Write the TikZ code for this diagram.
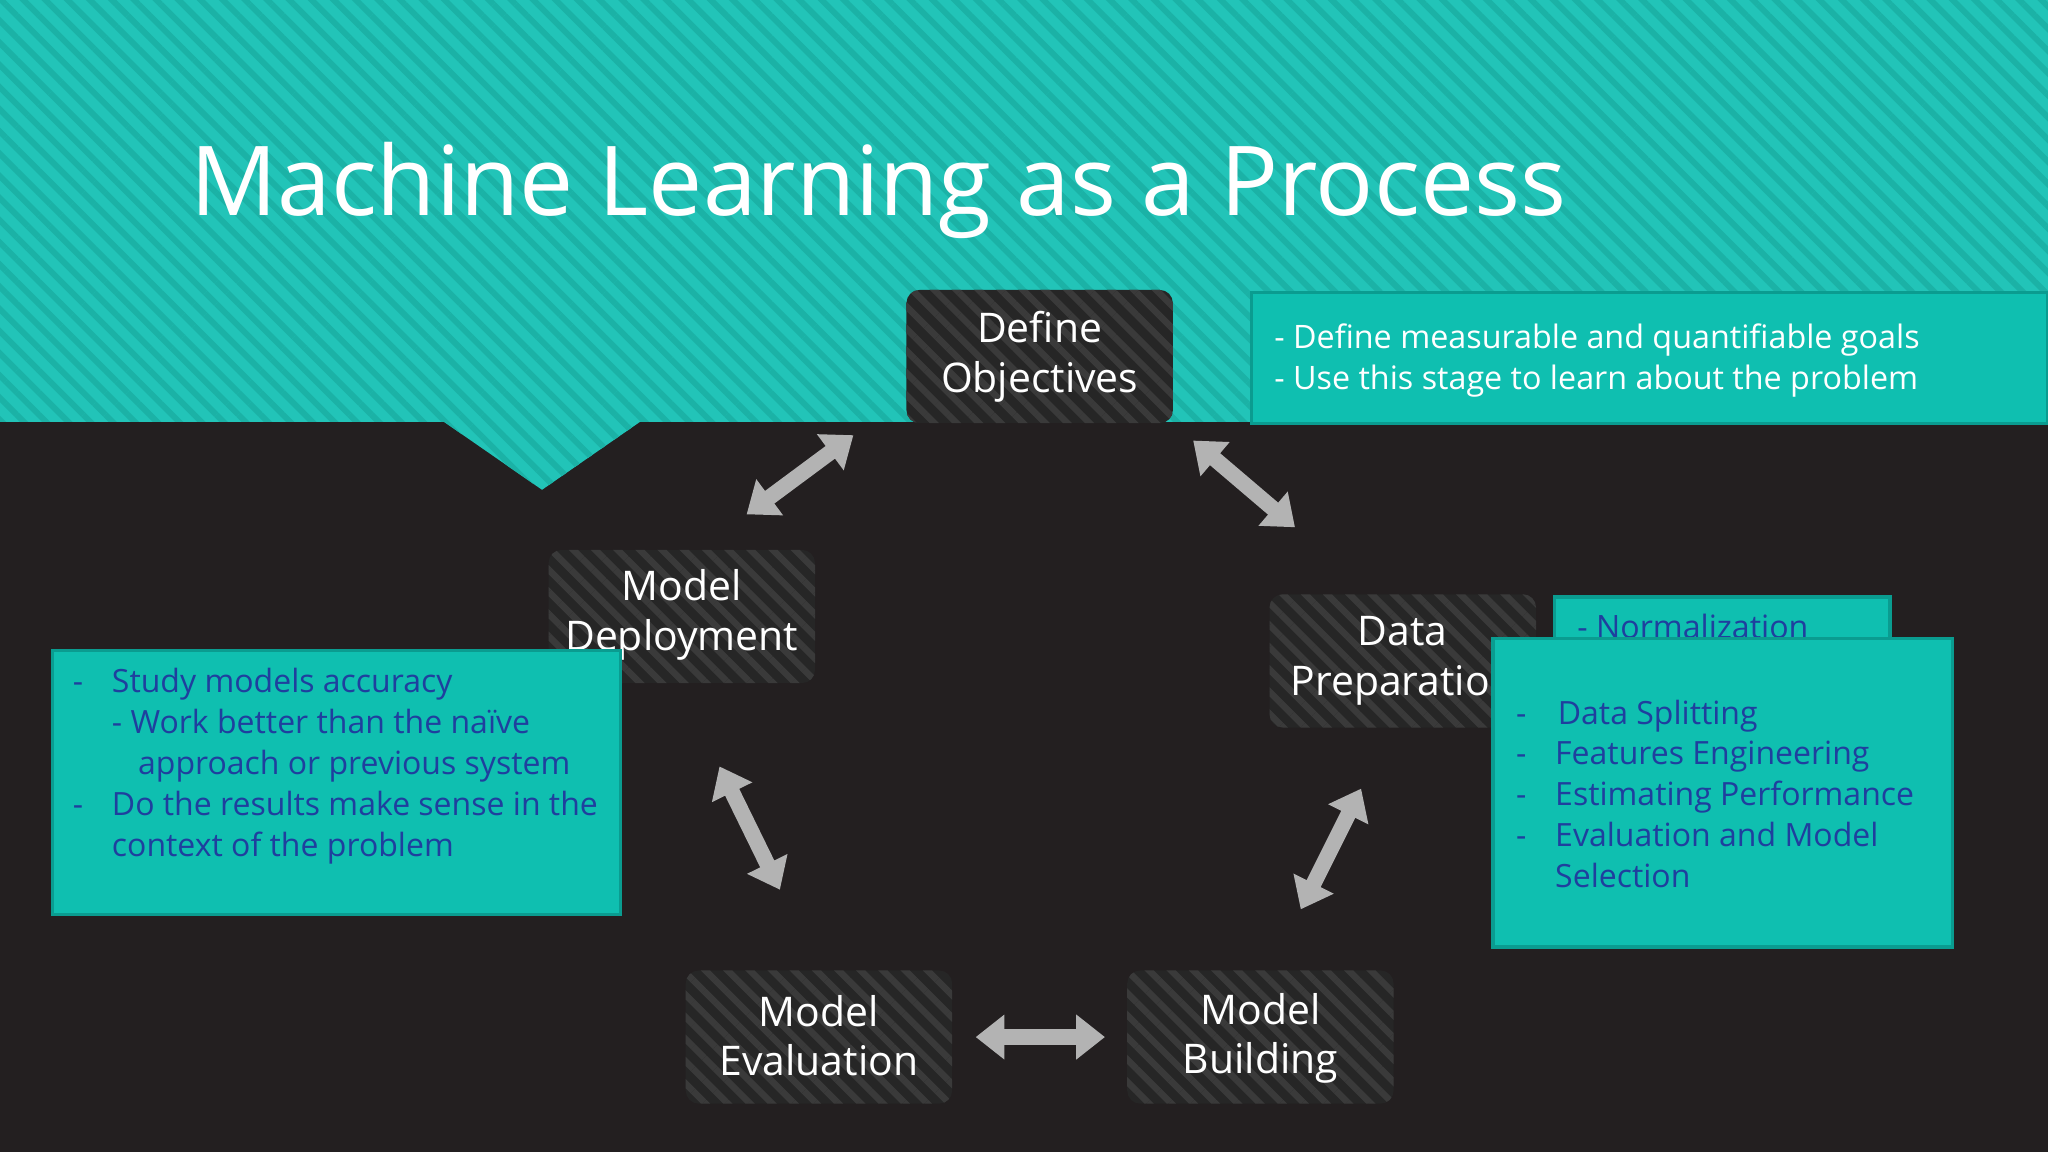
\documentclass[tikz,border=0pt]{standalone}
\usepackage{fontspec}
\setmainfont{Open Sans}
\usetikzlibrary{patterns.meta,arrows.meta}
\definecolor{teal1}{HTML}{22C4B8}
\definecolor{teal2}{HTML}{1BB2A6}
\definecolor{tealbox}{HTML}{0FBFB0}
\definecolor{tealedge}{HTML}{0A9C90}
\definecolor{darkbg}{HTML}{231F20}
\definecolor{boxdark}{HTML}{262626}
\definecolor{boxstripe}{HTML}{3A3A3A}
\definecolor{bluetxt}{HTML}{1F3F9E}
\definecolor{arrowgray}{HTML}{B3B3B3}
\tikzset{
  stage/.style={rounded corners=0.1cm, fill=boxdark, minimum width=2.05cm, minimum height=1.02cm, align=center, text=white, font=\fontsize{8.9}{10.8}\selectfont, inner sep=0pt},
  stripes/.style={pattern={Lines[angle=-45,distance=0.12cm,line width=0.05cm]}, pattern color=boxstripe},
  infobox/.style={fill=tealbox, draw=tealedge, line width=0.025cm, inner sep=0pt},
  dbl/.style={arrowgray, line width=0.12cm, {Triangle[width=0.33cm,length=0.22cm]}-{Triangle[width=0.33cm,length=0.22cm]}, shorten <=0.02cm, shorten >=0.02cm}
}
\begin{document}
\begin{tikzpicture}[x=0.01cm,y=-0.01cm]
\useasboundingbox (0,0) rectangle (1568,882);
\fill[darkbg] (0,0) rectangle (1568,882);
\fill[teal1] (0,0) -- (1568,0) -- (1568,323) -- (490,323) -- (415,375) -- (340,323) -- (0,323) -- cycle;
\fill[pattern={Lines[angle=-45,distance=0.12cm,line width=0.045cm]}, pattern color=teal2] (0,0) -- (1568,0) -- (1568,323) -- (490,323) -- (415,375) -- (340,323) -- (0,323) -- cycle;
\node[anchor=base west, text=white, font=\fontsize{21}{25}\selectfont, inner sep=0pt] (title) at (145,165) {Machine Learning as a Process};

% stage boxes
\foreach \n/\x/\y in {def/796/273, dep/522/472, prep/1074/506, eval/627/794, build/965/794}{
  \fill[boxdark, rounded corners=0.1cm] (\x-102,\y-51) rectangle (\x+102,\y+51);
  \fill[stripes, rounded corners=0.1cm] (\x-102,\y-51) rectangle (\x+102,\y+51);
}
\node[stage, fill=none] (def) at (796,273) {Define\\Objectives};
\node[stage, fill=none] (dep) at (522,471) {Model\\Deployment};
\node[stage, fill=none] (prep) at (1074,506) {Data\\Preparation};
\node[stage, fill=none] (eval) at (627,793) {Model\\Evaluation};
\node[stage, fill=none] (build) at (965,795) {Model\\Building};

% info boxes
\draw[infobox] (958,224) rectangle (1568,324);
\node[anchor=west, align=left, text=white, font=\fontsize{7.03}{9}\selectfont, inner sep=0pt] (goals) at (975,276) {- Define measurable and quantifiable goals\\- Use this stage to learn about the problem};

\draw[infobox] (40,498) rectangle (475,700);
\node[anchor=north west, align=left, text=bluetxt, font=\fontsize{6.97}{8.9}\selectfont, inner sep=0pt] (acc) at (55,511) {%
\makebox[0.3cm][l]{-}Study models accuracy\\
\makebox[0.3cm][l]{}- Work better than the naïve\\
\makebox[0.3cm][l]{}\hspace{0.2cm}approach or previous system\\
\makebox[0.3cm][l]{-}Do the results make sense in the\\
\makebox[0.3cm][l]{}context of the problem};

\draw[infobox] (1190,457) rectangle (1447,510);
\node[anchor=west, text=bluetxt, font=\fontsize{7}{9}\selectfont, inner sep=0pt] (norm) at (1207,480) {- Normalization};
\draw[infobox] (1143,489) rectangle (1495,725);
\node[anchor=north west, align=left, text=bluetxt, font=\fontsize{6.97}{8.9}\selectfont, inner sep=0pt] (split) at (1160,535) {%
\makebox[0.3cm][l]{-}\hspace{0.02cm}Data Splitting\\
\makebox[0.3cm][l]{-}Features Engineering\\
\makebox[0.3cm][l]{-}Estimating Performance\\
\makebox[0.3cm][l]{-}Evaluation and Model\\
\makebox[0.3cm][l]{}Selection};

% arrows
\coordinate (a1) at (655,332); \coordinate (a2) at (570,395);
\coordinate (b1) at (912,336); \coordinate (b2) at (993,405);
\coordinate (c1) at (550,585); \coordinate (c2) at (598,683);
\coordinate (d1) at (1043,602); \coordinate (d2) at (995,698);
\coordinate (e1) at (745,794); \coordinate (e2) at (848,794);
\draw[dbl] (a1) -- (a2);
\draw[dbl] (b1) -- (b2);
\draw[dbl] (c1) -- (c2);
\draw[dbl] (d1) -- (d2);
\draw[dbl] (e1) -- (e2);
\end{tikzpicture}
\end{document}
